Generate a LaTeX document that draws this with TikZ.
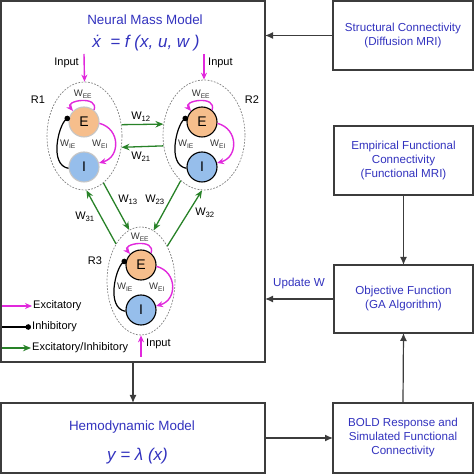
\documentclass[tikz,border=0pt]{standalone}
\usepackage{fontspec}
\setmainfont{Liberation Sans}
\usetikzlibrary{arrows.meta,shapes.geometric}
\definecolor{magen}{RGB}{225,40,220}
\definecolor{grn}{RGB}{40,130,40}
\definecolor{txtblue}{RGB}{50,50,190}
\definecolor{eorange}{RGB}{246,190,140}
\definecolor{iblue}{RGB}{150,190,235}
\definecolor{boxline}{RGB}{60,60,60}
\begin{document}
\begin{tikzpicture}[x=1pt, y=1pt, every node/.style={inner sep=1pt},
    box/.style={draw=boxline, line width=1.6pt, rectangle, outer sep=0pt},
    txt/.style={text=txtblue, align=center, font=\fontsize{11.6}{14}\selectfont},
    region/.style={ellipse, draw=gray, dash pattern=on 1.8pt off 1.4pt, line width=0.7pt, inner sep=0pt},
    unit/.style={circle, minimum size=30pt, line width=1.1pt, font=\fontsize{14}{16}\selectfont},
    wlab/.style={text=black!80, font=\fontsize{9.5}{11}\selectfont},
    clab/.style={font=\fontsize{11}{13}\selectfont},
    flow/.style={-{Latex[length=8pt,width=7pt]}, line width=1.2pt, boxline},
    exc/.style={-{Stealth[length=7pt,width=6pt]}, magen, line width=1.4pt},
    inh/.style={-{Circle[length=5.5pt]}, black, line width=1.2pt},
    ei/.style={-{Stealth[length=8pt,width=6.5pt]}, grn, line width=1.3pt}]
\useasboundingbox (0,0) rectangle (474,474);

% boxes
\node[box, minimum width=264pt, minimum height=361pt] (nmm) at (133,292.5) {};
\node[box, txt, minimum width=140pt, minimum height=69pt] (sc) at (403,438.5) {Structural Connectivity\\(Diffusion MRI)};
\node[box, txt, minimum width=139pt, minimum height=69pt] (efc) at (403.5,313.5) {Empirical Functional\\Connectivity\\(Functional MRI)};
\node[box, txt, minimum width=139pt, minimum height=68pt] (obj) at (403.5,175) {Objective Function\\(GA Algorithm)};
\node[box, txt, minimum width=140pt, minimum height=70pt] (bold) at (403,36) {BOLD Response and\\Simulated Functional\\Connectivity};
\node[box, minimum width=264pt, minimum height=70pt] (hemo) at (133,36) {};

\node[txt, font=\fontsize{13.4}{15}\selectfont] (nmmT) at (145,454) {Neural Mass Model};
\node[txt, font=\fontsize{17}{20}\selectfont\itshape] (nmmE) at (146,431) {\.{x} \ = f (x, u, w )};
\node[txt, font=\fontsize{13.4}{15}\selectfont] (hemoT) at (132,47) {Hemodynamic Model};
\node[txt, font=\fontsize{17}{20}\selectfont\itshape] (hemoE) at (137.5,18) {y = λ (x)};
\node[txt] (upd) at (299,190) {Update W};

\draw[flow] (sc.west) -- (sc.west -| nmm.east);
\draw[flow] (efc.south) -- (obj.north);
\draw[flow] (obj.west) -- (obj.west -| nmm.east);
\draw[flow] (bold.north) -- (obj.south);
\draw[flow] (nmm.south) -- (hemo.north);
\draw[flow] (hemo.east) -- (bold.west);

% regions
\node[region, minimum width=75pt, minimum height=108pt] (R1) at (84.5,338) {};
\node[region, minimum width=82pt, minimum height=110pt] (R2) at (204,339) {};
\node[region, minimum width=68pt, minimum height=108pt] (R3) at (141,193) {};
\node[clab] (r1) at (38,374) {R1};
\node[clab] (r2) at (252,374) {R2};
\node[clab] (r3) at (95,213) {R3};

\foreach \n/\x/\y/\bc in {1/84/352/gray!45, 2/202/352/black, 3/141/209/black} {
    \node[unit, fill=eorange, draw=\bc] (E\n) at (\x,\y) {E};
    \node[unit, fill=iblue, draw=\bc] (I\n) at (\x,\y-45) {I};
    \node[wlab] (wee\n) at (\x-1,\y+28) {W\textsubscript{EE}};
    \node[wlab] (wie\n) at (\x-16,\y-22) {W\textsubscript{IE}};
    \node[wlab] (wei\n) at (\x+16,\y-22) {W\textsubscript{EI}};
    \draw[exc] (E\n.50) .. controls +(70:16) and +(130:14) .. (E\n.135);
    \draw[exc] (E\n.-5) .. controls +(-15:22) and +(15:22) .. (I\n.15);
    \draw[inh] (I\n.185) .. controls +(170:20) and +(220:14) .. (E\n.160);
}

% inputs
\coordinate (in1) at (84,420);
\coordinate (in2) at (204,420);
\coordinate (in3) at (141,117);
\node[clab, anchor=east] (inp1) at (80,411) {Input};
\node[clab, anchor=west] (inp2) at (207,411) {Input};
\node[clab, anchor=west] (inp3) at (145,130) {Input};
\foreach \from/\to in {in1/R1.north, in2/R2.north, in3/R3.south}
    \draw[exc] (\from) -- (\to);

% connections between regions
\foreach \from/\to in {R1.17/R2.165, R2.195/R1.343, R1.-68/R3.103, R3.124/R1.272, R2.243/R3.76, R3.53/R2.268}
    \draw[ei] (\from) -- (\to);
\node[clab] (w12) at (141,357) {W\textsubscript{12}};
\node[clab] (w21) at (141,317) {W\textsubscript{21}};
\node[clab] (w13) at (128,274) {W\textsubscript{13}};
\node[clab] (w31) at (85,257) {W\textsubscript{31}};
\node[clab] (w23) at (155,274) {W\textsubscript{23}};
\node[clab] (w32) at (205,261) {W\textsubscript{32}};

% legend
\coordinate (lg1) at (2,168);
\coordinate (lg2) at (2,147);
\coordinate (lg3) at (2,126);
\node[clab, anchor=west] (lt1) at (32,168) {Excitatory};
\node[clab, anchor=west] (lt2) at (31,147) {Inhibitory};
\node[clab, anchor=west] (lt3) at (31,126) {Excitatory/Inhibitory};
\draw[exc] (lg1) -- (lt1.west);
\draw[inh] (lg2) -- (lt2.west);
\draw[ei] (lg3) -- (lt3.west);
\end{tikzpicture}
\end{document}
